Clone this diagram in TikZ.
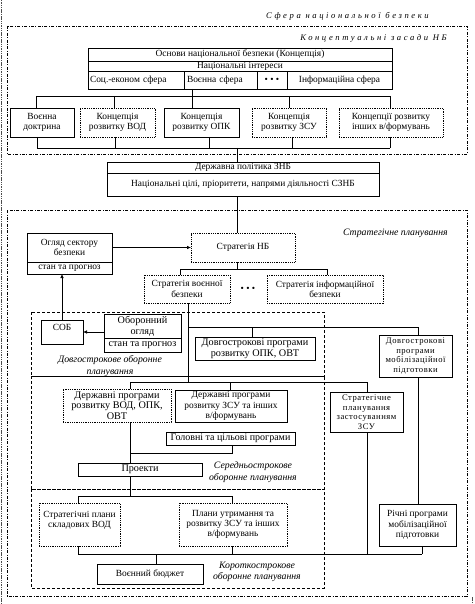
\documentclass[tikz,border=0pt]{standalone}
\usepackage{fontspec}
\setmainfont{Liberation Serif}
\newfontfamily\spacedfont[LetterSpace=30]{Liberation Serif}
\newfontfamily\loosefont[LetterSpace=6]{Liberation Serif}
\usetikzlibrary{arrows.meta}
\newcommand\bx[7]{\node[#1,anchor=north west,minimum width=#5-#3,minimum height=#6-#4] (#2) at (#3,#4) {#7};}
\begin{document}
\begin{tikzpicture}[x=1pt,y=-1pt,line width=0.6pt,
  base/.style={inner sep=0pt,outer sep=0pt,align=center,font=\fontsize{9.4}{10.4}\selectfont},
  sbox/.style={base,draw},
  dbox/.style={base,draw,dash pattern=on 0.9pt off 0.9pt,line width=0.9pt},
  bigtext/.style={font=\fontsize{10.2}{10.8}\selectfont},
  smalltext/.style={font=\loosefont\fontsize{8.6}{9.6}\selectfont},
  lbl/.style={inner sep=0pt,align=center,font=\fontsize{9.8}{11.5}\selectfont\itshape},
  ttl/.style={inner sep=0pt,font=\spacedfont\fontsize{8.6}{9}\selectfont\itshape},
  ddframe/.style={draw,dash pattern=on 3pt off 1.5pt on 0.8pt off 1.5pt,line width=0.6pt},
  dframe/.style={draw,dash pattern=on 3pt off 2pt,line width=0.6pt},
  oframe/.style={draw,black!70,dash pattern=on 1.5pt off 0.8pt,line width=0.8pt},
  arr/.style={-{Latex[length=4pt,width=3.5pt]}},
]
\useasboundingbox (0,0) rectangle (474,604);
% outer frame (visible parts)
\draw[oframe] (1.5,0) -- (1.5,604);
\draw[oframe] (472.5,597) -- (472.5,604);
\node[ttl,anchor=east] (tsfera) at (429,16) {Сфера національної безпеки};
% conceptual frame
\draw[ddframe] (7,26) rectangle (467,154);
\node[ttl,anchor=east] (tconc) at (447,38) {Концептуальні засади НБ};
% top box
\bx{sbox}{topbox}{88}{48}{392}{89}{}
\draw (topbox.west |- 0,61) -- (topbox.east |- 0,61);
\draw (topbox.west |- 0,71) -- (topbox.east |- 0,71);
\node[base] (osn) at (240,54.5) {Основи національної безпеки (Концепція)};
\node[base] (nint) at (240,66) {Національні інтереси};
\bx{sbox,text width=92,align=left,inner xsep=2pt}{c1}{88}{71}{184}{89}{Соц.-економ сфера}
\bx{sbox,text width=67,align=left,inner xsep=3pt}{c2}{184}{71}{257}{89}{Воєнна сфера}
\bx{sbox}{c3}{257}{71}{287}{89}{\textbullet\ \textbullet\ \textbullet}
\bx{sbox}{c4}{287}{71}{392}{89}{Інформаційна сфера}
% concept row
\bx{sbox}{d1}{10}{108}{74}{137}{Воєнна\\доктрина}
\bx{dbox}{d2}{80}{108}{155}{137}{Концепція\\розвитку ВОД}
\bx{sbox}{d3}{164}{108}{239}{137}{Концепція\\розвитку ОПК}
\bx{dbox}{d4}{252}{108}{326}{137}{Концепція\\розвитку ЗСУ}
\bx{dbox}{d5}{339}{108}{443}{137}{Концепції розвитку\\інших в/формувань}
\coordinate (t1) at (36,96);
\coordinate (t2) at (114,96);
\coordinate (t3) at (192,96);
\coordinate (t4) at (289,96);
\coordinate (t5) at (390,96);
\draw (c2.south -| t3) -- (t3);
\draw (t1) -- (t5);
\draw (t1) -- (d1.north -| t1);
\draw (t2) -- (d2.north -| t2);
\draw (t3) -- (d3.north -| t3);
\draw (t4) -- (d4.north -| t4);
\draw (t5) -- (d5.north -| t5);
\coordinate (b1) at (37,148);
\coordinate (b2) at (115,148);
\coordinate (b3) at (209,148);
\coordinate (b4) at (292,148);
\coordinate (b5) at (390,148);
\coordinate (bc) at (237,148);
\draw (d1.south -| b1) -- (b1) -- (b5);
\draw (d2.south -| b2) -- (b2);
\draw (d3.south -| b3) -- (b3);
\draw (d4.south -| b4) -- (b4);
\draw (d5.south -| b5) -- (b5);
% state policy
\bx{sbox}{dp}{107}{162}{379}{196}{}
\draw (dp.west |- 0,173) -- (dp.east |- 0,173);
\node[base] (dp1) at (243,167.5) {Державна політика ЗНБ};
\node[base] (dp2) at (243,184.5) {Національні цілі, пріоритети, напрями діяльності СЗНБ};
\draw (bc) -- (dp.north -| bc);
% strategic planning frame
\draw[ddframe] (7,210) rectangle (467,596);
\node[lbl,anchor=east] (tstrat) at (448,233) {Стратегічне планування};
\bx{dbox}{snb}{191}{233}{295}{262}{Стратегія НБ}
\draw (dp.south -| bc) -- (snb.north -| bc);
\bx{sbox}{ogl}{27}{233}{112}{274}{}
\draw (ogl.west |- 0,262) -- (ogl.east |- 0,262);
\node[base] (ogl1) at (69.5,247.5) {Огляд сектору\\безпеки};
\node[base] (ogl2) at (69.5,268) {стан та прогноз};
\draw[arr] (ogl.east |- snb.west) -- (snb.west);
\bx{dbox}{svb}{144}{275}{230}{303}{Стратегія воєнної\\безпеки}
\node[base] (sdots) at (248,289) {\textbullet\ \textbullet\ \textbullet};
\bx{dbox}{sib}{267}{275}{383}{303}{Стратегія інформаційної\\безпеки}
\coordinate (s0) at (237,269);
\coordinate (s1) at (180,269);
\coordinate (s2) at (327,269);
\draw (snb.south -| s0) -- (s0);
\draw (s1) -- (s2);
\draw (s1) -- (svb.north -| s1);
\draw (s2) -- (sib.north -| s2);
% defence planning frames
\draw[dframe] (31,312) rectangle (324,376);
\draw[dframe] (31,376) rectangle (324,489);
\draw[dframe] (31,489) rectangle (324,588);
\node[lbl] (tdolg) at (110,366) {Довгострокове оборонне\\планування};
\node[lbl] (tsered) at (253,472) {Середньострокове\\оборонне планування};
\node[lbl] (tkor) at (257,572) {Короткострокове\\оборонне планування};
% long-term
\bx{sbox}{sob}{41}{320}{83}{344}{}
\node[base] (sobt) at (62,327.5) {СОБ};
\bx{sbox}{oo}{104}{314}{181}{352}{}
\draw (oo.west |- 0,338) -- (oo.east |- 0,338);
\node[base,bigtext] (oo1) at (142.5,326) {Оборонний\\огляд};
\node[base,bigtext] (oo2) at (142.5,345) {стан та прогноз};
\draw[arr] (sob.north) -- (sob.north |- ogl.south);
\draw[arr] (oo.west |- sob.east) -- (sob.east);
\bx{sbox,bigtext}{dpopk}{195}{337}{315}{360}{Довгострокові програми\\розвитку ОПК, ОВТ}
\bx{sbox,smalltext}{dmob}{379}{335}{452}{377}{Довгострокові\\програми\\мобілізаційної\\підготовки}
\coordinate (v1) at (188,327);
\coordinate (v2) at (188,382);
\coordinate (o1) at (252,327);
\coordinate (m1) at (418,327);
\draw (svb.south -| v1) -- (v2);
\draw (v1) -- (m1) -- (dmob.north -| m1);
\draw (o1) -- (dpopk.north -| o1);
% mid-term
\bx{dbox,bigtext}{dpvod}{63}{389}{171}{422}{Державні програми\\розвитку ВОД, ОПК,\\ОВТ}
\bx{sbox}{dpzsu}{175}{390}{287}{422}{Державні програми\\розвитку ЗСУ та інших\\в/формувань}
\bx{sbox,font=\fontsize{10}{10.5}\selectfont}{gol}{166}{432}{295}{445}{Головні та цільові програми}
\bx{sbox,smalltext}{spz}{330}{392}{403}{432}{Стратегічне\\планування\\застосуванням\\ЗСУ}
\bx{sbox,bigtext}{pro}{78}{463}{202}{476}{Проекти}
\coordinate (g1) at (130,382);
\coordinate (g2) at (230,382);
\coordinate (g3) at (367,382);
\draw (g1) -- (g3);
\draw (g1) -- (dpvod.north -| g1);
\draw (g2) -- (dpzsu.north -| g2);
\draw (g3) -- (spz.north -| g3);
\coordinate (h1) at (130,453);
\coordinate (h2) at (232,453);
\draw (gol.south -| h2) -- (h2) -- (h1);
\draw (dpvod.south -| h1) -- (pro.north -| h1);
% short-term
\bx{dbox}{spv}{39}{503}{120}{546}{Стратегічні плани\\складових ВОД\\\mbox{}}
\bx{dbox}{pu}{179}{503}{287}{546}{Плани утримання та\\розвитку ЗСУ та інших\\в/формувань}
\bx{sbox}{rp}{379}{504}{456}{546}{Річні програми\\мобілізаційної\\підготовки}
\bx{sbox}{vb}{97}{564}{203}{584}{Воєнний бюджет}
\coordinate (k0) at (130,496);
\coordinate (k1) at (78,496);
\coordinate (k2) at (232,496);
\draw (pro.south -| k0) -- (k0);
\draw (k1) -- (k2);
\draw (k1) -- (spv.north -| k1);
\draw (k2) -- (pu.north -| k2);
\draw (dmob.south -| m1) -- (rp.north -| m1);
\coordinate (q1) at (78,554);
\coordinate (q2) at (232,554);
\coordinate (q3) at (367,554);
\coordinate (q4) at (422,554);
\coordinate (qv) at (156,554);
\draw (spv.south -| q1) -- (q1) -- (q4);
\draw (pu.south -| q2) -- (q2);
\draw (spz.south -| q3) -- (q3);
\draw (rp.south -| q4) -- (q4);
\draw (qv) -- (vb.north -| qv);
\end{tikzpicture}
\end{document}
